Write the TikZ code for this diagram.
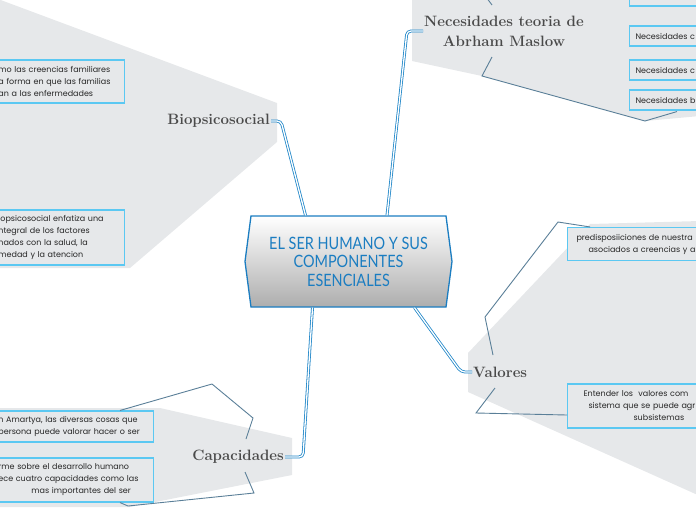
\documentclass[tikz,border=0pt]{standalone}
\usepackage{fontspec}
\usepackage{tikz}
\usetikzlibrary{calc,positioning,shapes.symbols}
\newfontfamily\hubfont[FakeStretch=0.85]{Lato}
\newfontfamily\boxfont{Poppins}
\definecolor{regiongray}{HTML}{E6E8EA}
\definecolor{leafblue}{HTML}{5BC8F2}
\definecolor{linkblue}{HTML}{1F86C8}
\definecolor{hubblue}{HTML}{1B7DC1}
\definecolor{bracketgray}{HTML}{5A7F98}
\definecolor{topicgray}{HTML}{4A4A4A}
\tikzset{
  hub/.style={shape=signal, signal to=east and west, signal pointer angle=165,
    draw=hubblue, line width=1.3pt, top color=white, bottom color=black!32,
    minimum width=207pt, minimum height=91pt, inner sep=0pt, align=center,
    text=hubblue, font=\hubfont\fontsize{17}{18.5}\selectfont},
  topic/.style={font=\bfseries\fontsize{15}{20}\selectfont, text=topicgray, align=center, inner sep=1pt},
  leaf/.style={draw=leafblue, fill=regiongray, line width=1.1pt, inner sep=4pt, align=left,
    text=black!85, font=\boxfont\fontsize{8}{12}\selectfont},
  region/.style={fill=regiongray},
  bracket/.style={draw=bracketgray, line width=0.9pt},
  link/.style={draw=linkblue, double=white, line width=0.8pt, double distance=1.3pt, rounded corners=4pt},
}
\begin{document}
\begin{tikzpicture}[x=1pt,y=-1pt]
  \useasboundingbox (0,0) rectangle (696,520);
  \clip (0,0) rectangle (696,520);
  % grey areas behind the branches
  \fill[region] (-2,-1) -- (277,103) -- (277,142) -- (130,268) -- (-2,268) -- cycle;
  \fill[region] (412,-2) -- (700,-2) -- (700,116) -- (645,121) -- (482,76) -- (412,61) -- cycle;
  \fill[region] (468,353) -- (590,224) -- (700,221) -- (700,496) -- (468,392) -- cycle;
  \fill[region] (-2,408) -- (160,408) -- (292,438) -- (292,475) -- (130,507) -- (-2,507) -- cycle;

  \node[hub] (hub) at (348.5,261.5) {EL SER HUMANO Y SUS\\COMPONENTES\\ESENCIALES};

  \node[topic, anchor=east] (bio) at (271,121) {Biopsicosocial};
  \node[topic] (maslow) at (504,31) {Necesidades teoria de\\Abrham Maslow};
  \node[topic, anchor=west] (val) at (472,372) {Valores};
  \node[topic, anchor=east] (cap) at (285,457) {Capacidades};

  % boxes, cut by the edge of the page
  \node[leaf, anchor=east, text width=122pt, minimum height=43pt] (bioA) at (125,81.5)
    {mo las creencias familiares\\a forma en que las familias\\an a las enfermedades};
  \node[leaf, anchor=east, text width=122pt, minimum height=55pt] (bioB) at (125,237.5)
    {iopsicosocial enfatiza una\\ntegral de los factores\\nados con la salud, la\\medad y la atencion};

  \node[leaf, anchor=west, text width=160pt, minimum height=24pt] (maslowA) at (629,-6) {};
  \node[leaf, anchor=west, text width=160pt, minimum height=20pt] (maslowB) at (629,36) {\hspace*{2pt}Necesidades c};
  \node[leaf, anchor=west, text width=160pt, minimum height=20pt] (maslowC) at (629,70) {\hspace*{2pt}Necesidades c};
  \node[leaf, anchor=west, text width=160pt, minimum height=20pt] (maslowD) at (629,100) {\hspace*{2pt}Necesidades b};

  \node[leaf, anchor=west, text width=160pt, minimum height=33pt] (valA) at (567,244)
    {\hspace*{5pt}predisposiiciones de nuestra\\\hspace*{17pt}asociados a creencias y a};
  \node[leaf, anchor=west, text width=160pt, minimum height=44pt] (valB) at (567,406)
    {\hspace*{12pt}Entender los\ \ valores com\\\hspace*{17pt}sistema que se puede agr\\\hspace*{62pt}subsistemas};

  \node[leaf, anchor=east, text width=151pt, minimum height=31pt] (capA) at (154,426.5)
    {n Amartya, las diversas cosas que\\persona puede valorar hacer o ser};
  \node[leaf, anchor=east, text width=151pt, minimum height=44pt] (capB) at (154,480)
    {rme sobre el desarrollo humano\\ece cuatro capacidades como las\\\hspace*{33pt}mas importantes del ser};

  % brackets
  \draw[bracket] (486,-3) -- (492,5);
  \draw[bracket] (492,57) -- (482,76) -- (645,121) -- ($(maslowD.south west)+(48,1)$);
  \draw[bracket] (493,355) -- (485,317) -- (558,222) -- ($(valA.north west)+(23,0)$);
  \draw[bracket] (495,388) -- (476,413) -- ($(valB.west)+(0,9)$);
  \draw[bracket] (246,439) -- (253,418) -- (212,384) -- ($(capA.north east)+(-34,0)$);
  \draw[bracket] (245,472) -- (254,493) -- (128,506) -- ($(capB.south east)+(-34,0)$);

  % connectors
  \draw[link] (bio.east) -- ++(10,0) -- ($(hub.north)+(-43,0)$);
  \draw[link] (maslow.west) -- ++(-16,0) -- ($(hub.north)+(38.5,0)$);
  \draw[link] (val.west) -- ++(-11,0) -- ($(hub.south)+(66,0)$);
  \draw[link] (cap.east) -- ++(18,0) -- ($(hub.south)+(-36,0)$);
\end{tikzpicture}
\end{document}
